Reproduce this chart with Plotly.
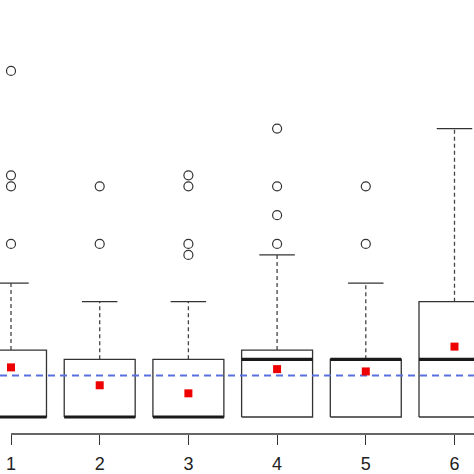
import plotly.graph_objects as go

groups = [1, 2, 3, 4, 5, 6]
tick_labels = ["1", "2", "3", "4", "5", "6"]
q1 = [1, 1, 1, 1, 1, 1]
median = [1, 1, 1, 2, 2, 2]
q3 = [2.16, 2, 2, 2.16, 2, 3]
lower_whisker = [1, 1, 1, 1, 1, 1]
upper_whisker = [3.32, 3, 3, 3.81, 3.32, 6]
means = [1.86, 1.55, 1.41, 1.83, 1.79, 2.22]
outliers = [
    [7, 5.19, 5, 4],
    [5, 4],
    [5.19, 5, 4, 3.81],
    [6, 5, 4.5, 4],
    [5, 4],
    [],
]
reference_level = 1.72

BOX_HALF = 0.4
CAP_HALF = 0.2
DARK = "#333333"

fig = go.Figure()

wx, wy, cx, cy, bx, by, mx, my = [], [], [], [], [], [], [], []
for g, a, b, c, d, e in zip(groups, q1, median, q3, lower_whisker, upper_whisker):
    wx += [g, g, None]
    wy += [c, e, None]
    cx += [g - CAP_HALF, g + CAP_HALF, None]
    cy += [e, e, None]
    bx += [g - BOX_HALF, g + BOX_HALF, g + BOX_HALF, g - BOX_HALF, g - BOX_HALF, None]
    by += [a, a, c, c, a, None]
    mx += [g - BOX_HALF, g + BOX_HALF, None]
    my += [b, b, None]

fig.add_trace(go.Scatter(x=wx, y=wy, mode="lines",
                         line=dict(color="#444444", width=1.3, dash="4px,3px"),
                         hoverinfo="skip", showlegend=False))
fig.add_trace(go.Scatter(x=cx, y=cy, mode="lines",
                         line=dict(color=DARK, width=1.3),
                         hoverinfo="skip", showlegend=False))
fig.add_trace(go.Scatter(x=bx, y=by, mode="lines",
                         line=dict(color=DARK, width=1.3),
                         hoverinfo="skip", showlegend=False))
fig.add_trace(go.Scatter(x=mx, y=my, mode="lines",
                         line=dict(color="#1a1a1a", width=3.2),
                         hoverinfo="skip", showlegend=False))

ox, oy = [], []
for g, vals in zip(groups, outliers):
    for v in vals:
        ox.append(g)
        oy.append(v)
fig.add_trace(go.Scatter(x=ox, y=oy, mode="markers",
                         marker=dict(symbol="circle-open", size=9,
                                     color=DARK, line=dict(width=1.2, color=DARK)),
                         showlegend=False))

x_min, x_max = 0.876, 6.22
fig.add_trace(go.Scatter(x=[x_min, x_max], y=[reference_level, reference_level],
                         mode="lines",
                         line=dict(color="#5a6fe0", width=2, dash="7px,5px"),
                         hoverinfo="skip", showlegend=False))

fig.add_trace(go.Scatter(x=groups, y=means, mode="markers",
                         marker=dict(symbol="square", size=8, color="#ee0000"),
                         showlegend=False))

fig.add_shape(type="line", xref="x", yref="paper",
              x0=groups[0], x1=x_max, y0=0, y1=0,
              line=dict(color=DARK, width=1.3))

fig.update_layout(
    width=474, height=474,
    margin=dict(l=0, r=0, t=0, b=40),
    paper_bgcolor="white", plot_bgcolor="white",
    font=dict(family="Liberation Sans, Arial, sans-serif", size=18, color="#222222"),
    xaxis=dict(range=[x_min, x_max], tickmode="array", tickvals=groups,
               ticktext=tick_labels, ticks="outside", ticklen=10,
               tickwidth=1.3, tickcolor=DARK, showgrid=False, zeroline=False,
               showline=False, tickfont=dict(size=18), ticklabelstandoff=3,
               automargin=False),
    yaxis=dict(range=[0.705, 8.23], showgrid=False, zeroline=False,
               showticklabels=False, ticks="", showline=False, automargin=False),
)

fig.write_html("out.html", config={"displayModeBar": False},
               post_script="document.body.style.margin='0';document.body.style.overflow='hidden';")
